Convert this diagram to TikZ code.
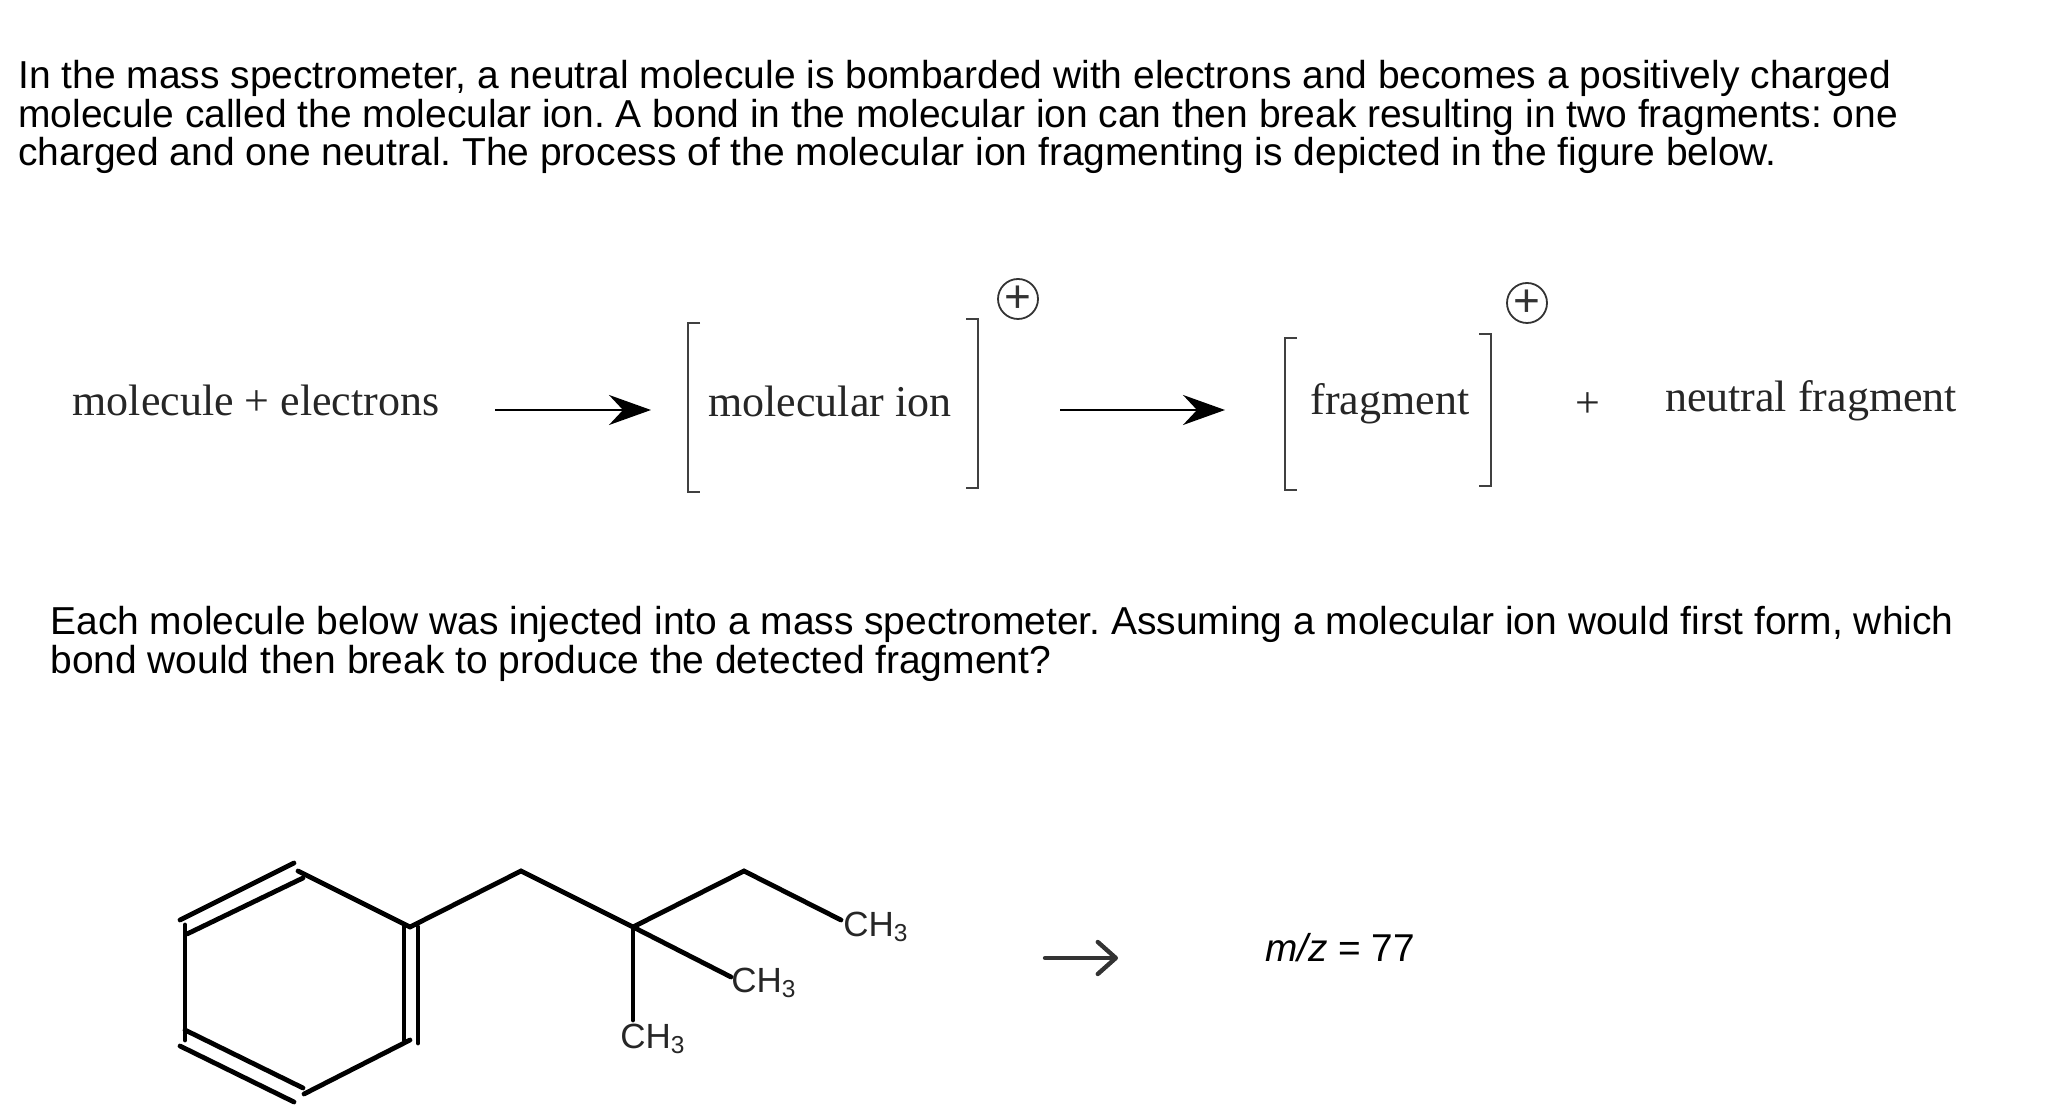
\documentclass[tikz,border=0pt]{standalone}
\usepackage{fontspec}
\setmainfont{Liberation Sans}
\newfontfamily\serifface{Liberation Serif}
\usetikzlibrary{arrows.meta}
\tikzset{
  para/.style={inner sep=0pt, anchor=north west, align=left, font=\frenchspacing\fontsize{19.48}{19.2}\selectfont},
  term/.style={inner sep=0pt, font=\serifface\fontsize{22}{24}\selectfont, text=black!85},
  group/.style={inner sep=0pt, font=\fontsize{17.5}{20}\selectfont, text=black!85},
  bond/.style={line width=2.4pt, line cap=round},
  brack/.style={line width=1.2pt, black!75},
  charge/.style={circle, draw, black!80, line width=0.9pt, minimum size=20pt, inner sep=0pt, font=\fontsize{23}{23}\selectfont},
  bigarrow/.style={->, >={Stealth[length=21pt, width=15pt, inset=7pt]}, line width=1.2pt}
}
\begin{document}
\begin{tikzpicture}[x=0.5pt, y=-0.5pt]
        \useasboundingbox (0,0) rectangle (2046,1111);
        \node[para] (intro) at (18,60) {In the mass spectrometer, a neutral molecule is bombarded with electrons and becomes a positively charged\\molecule called the molecular ion. A bond in the molecular ion can then break resulting in two fragments: one\\charged and one neutral. The process of the molecular ion fragmenting is depicted in the figure below.};
        \node[para] (ask) at (50,606) {Each molecule below was injected into a mass spectrometer. Assuming a molecular ion would first form, which\\bond would then break to produce the detected fragment?};

        % reaction scheme
        \node[term] (mol) at (256,400) {molecule + electrons};
        \node[term] (ion) at (830,401) {molecular ion};
        \node[term] (frag) at (1390,404) {fragment};
        \node[term] (plus) at (1588,405) {+};
        \node[term] (neut) at (1811,401) {neutral fragment};
        \node[charge] (c1) at (1018,299) {+};
        \node[charge] (c2) at (1527,303) {+};

        \coordinate (a1) at (495,410);
        \coordinate (a2) at (651,410);
        \coordinate (a3) at (1060,410);
        \coordinate (a4) at (1225,410);
        \draw[bigarrow] (a1) -- (a2);
        \draw[bigarrow] (a3) -- (a4);

        \draw[brack] (700,323) -- (688,323) -- (688,492) -- (700,492);
        \draw[brack] (966,319) -- (978,319) -- (978,488) -- (966,488);
        \draw[brack] (1297,338) -- (1285,338) -- (1285,490) -- (1297,490);
        \draw[brack] (1479,334) -- (1491,334) -- (1491,486) -- (1479,486);

        % molecule
        \node[group] (me1) at (876,927) {CH\textsubscript{3}};
        \node[group] (me2) at (764,983) {CH\textsubscript{3}};
        \node[group] (me3) at (653,1039) {CH\textsubscript{3}};
        \coordinate (r1) at (410,927);
        \coordinate (r2) at (410,1040);
        \coordinate (b1) at (521,871);
        \coordinate (b2) at (633,927);
        \coordinate (b3) at (744,871);

        \draw[bond] (185,925) -- (185,1040);
        \draw[bond] (180,920) -- (294,863);
        \draw[bond] (187,934) -- (303,878);
        \draw[bond] (180,1046) -- (294,1102);
        \draw[bond] (185,1030) -- (303,1088);
        \draw[bond] (298,871) -- (r1);
        \draw[bond] (304,1094) -- (r2);
        \draw[bond] (404,927) -- (404,1040);
        \draw[bond] (418,927) -- (418,1043);
        \draw[bond] (r1) -- (b1) -- (b2) -- (b3) -- (841,920);
        \draw[bond] (b2) -- (731,977);
        \draw[bond] (b2) -- (633,1020);

        % result
        \coordinate (p1) at (1045,958);
        \coordinate (p2) at (1118,958);
        \draw[line width=2.2pt, line cap=round, black!80, ->, >={Straight Barb[length=9pt, width=16pt, round]}] (p1) -- (p2);
        \node[inner sep=0pt, font=\fontsize{19.4}{20}\selectfont] (mz) at (1340,948) {\textit{m/z} = 77};
\end{tikzpicture}
\end{document}
